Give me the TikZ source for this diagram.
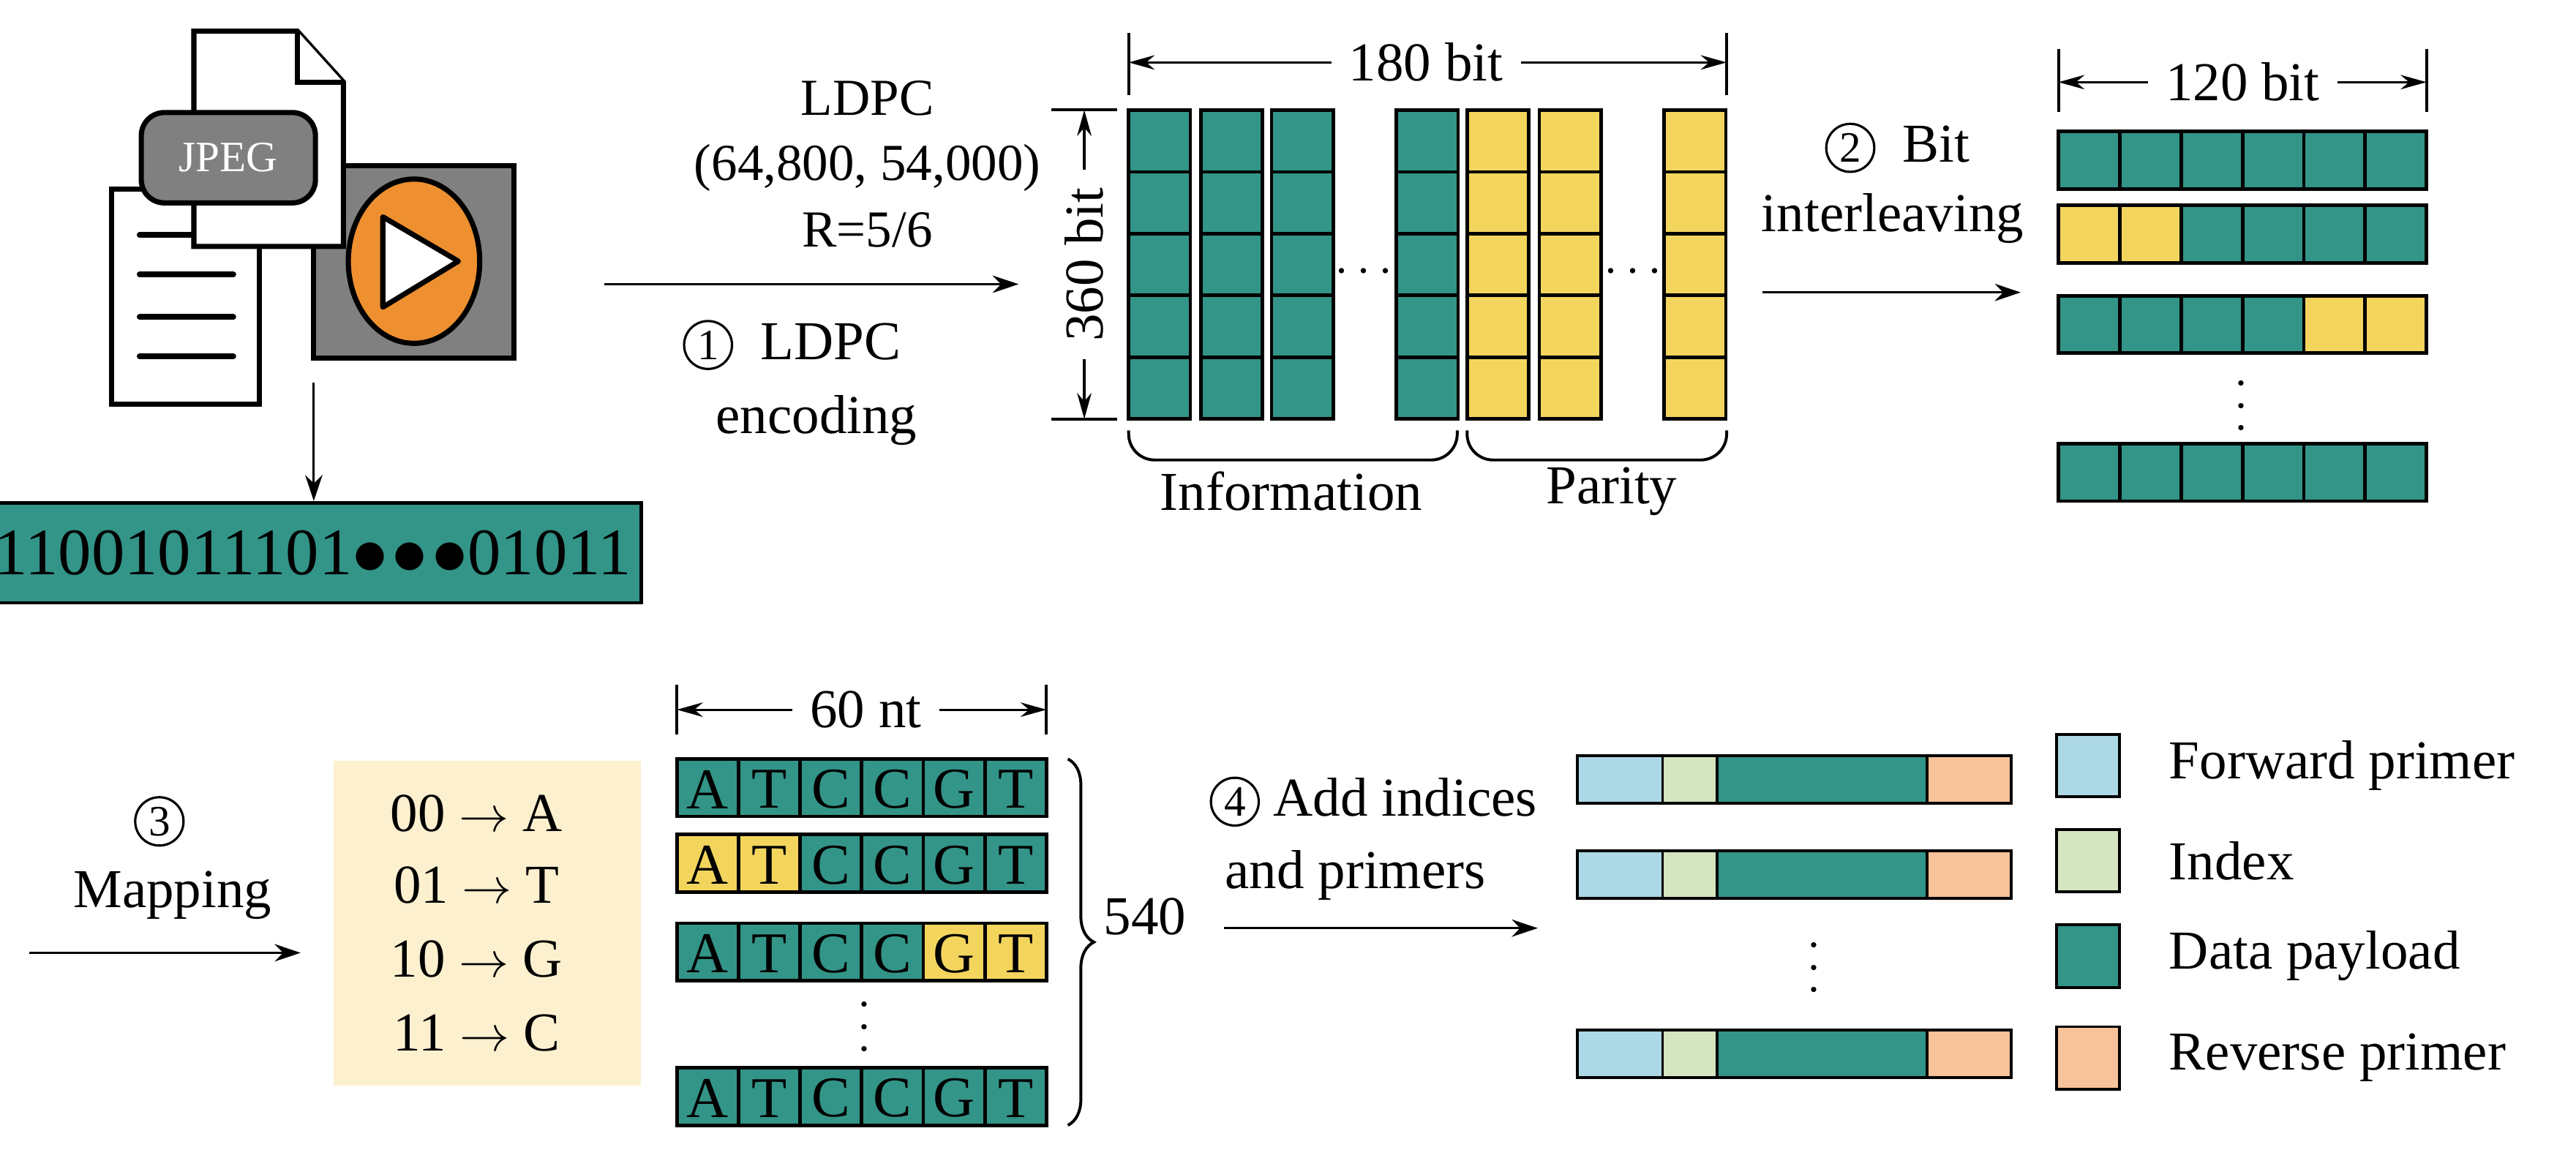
\documentclass[tikz,border=0pt]{standalone}
\usepackage{fontspec}
\setmainfont{Liberation Serif}
\usetikzlibrary{arrows.meta,decorations.pathreplacing}
\definecolor{teal1}{HTML}{339488}
\definecolor{yel}{HTML}{F3D55E}
\definecolor{lblue}{HTML}{ADD8E6}
\definecolor{lgreen}{HTML}{D5E5C0}
\definecolor{lorange}{HTML}{F8C29A}
\definecolor{mapbg}{HTML}{FDF0CF}
\definecolor{orng}{HTML}{EE9030}
\newcommand{\cnum}[1]{\tikz[baseline=(cc.base)]\node[draw,circle,line width=0.8pt,inner sep=1.5pt,font=\fontsize{15}{15}\selectfont](cc){#1};}
\begin{document}
\begin{tikzpicture}[x=0.02cm,y=-0.02cm,
  txt/.style={font=\fontsize{19}{22}\selectfont,inner sep=0pt},
  txs/.style={font=\fontsize{18}{21}\selectfont,inner sep=0pt},
  cell/.style={draw,line width=1.2pt},
  arr/.style={-{Stealth[length=9pt,width=6pt]},line width=0.8pt},
  dim/.style={-{Stealth[length=9pt,width=5pt]},line width=0.8pt},
  tick/.style={line width=1pt}]
\useasboundingbox (0,0) rectangle (1568,700);
% ---------- icon ----------
\draw[line width=1.8pt,fill=white] (68,115) rectangle (158,246);
\foreach \yy in {143,167,193,217}{\draw[line width=2pt,line cap=round] (85,\yy) -- (142,\yy);}
\draw[line width=1.8pt,fill=gray] (191,101) rectangle (313,218);
\draw[line width=1.8pt,fill=white] (118,19) -- (181,19) -- (209,50) -- (209,150) -- (118,150) -- cycle;
\draw[line width=1.8pt,fill=white] (181,19) -- (181,50) -- (209,50);
\draw[line width=1.8pt,fill=orng] (252,159) ellipse [x radius=40,y radius=50];
\draw[line width=1.8pt,fill=white,line join=round] (233,132) -- (233,187) -- (279,159) -- cycle;
\node[draw,line width=1.8pt,fill=gray,rounded corners=8pt,minimum width=106*0.02cm,minimum height=55*0.02cm,text=white,font=\fontsize{15}{17}\selectfont] (jpeg) at (139,96) {JPEG};
\coordinate (icon) at (191,233);
\node[draw,line width=1.2pt,fill=teal1,minimum width=353*0.02cm,minimum height=61*0.02cm,font=\fontsize{23}{25}\selectfont] (bin) at (190.5,336.5) {11001011101$\bullet\!\bullet\!\bullet$01011};
\draw[arr] (icon) -- (bin.north -| icon);
% ---------- step 1 ----------
\coordinate (a1s) at (368,173); \coordinate (a1e) at (620,173);
\draw[arr] (a1s) -- (a1e);
\node[txs] (t1a) at (528,60) {LDPC};
\node[txs] (t1b) at (528,102) {(64,800, 54,000)};
\node[txs] (t1c) at (528,140) {R=5/6};
\node[txt] (t1d) at (482,210) {\cnum{1}\ \ LDPC};
\node[txt] (t1e) at (497,256) {encoding};
% ---------- matrix ----------
\foreach \xx/\cc in {687/teal1,731/teal1,774/teal1,850/teal1,893/yel,937/yel,1013/yel}{
  \foreach \r in {0,...,4}{
    \draw[cell,fill=\cc] (\xx,67+\r*37.6) rectangle ++(37.5,37.6);
  }}
\node[txt] (d1) at (830,166) {$\cdots$};
\node[txt] (d2) at (994,166) {$\cdots$};
% 180 bit
\draw[tick] (687,20) -- (687,58);
\draw[tick] (1051,20) -- (1051,58);
\node[txt,fill=white,inner xsep=6pt] (b180) at (868,38) {180 bit};
\coordinate (b180l) at (687,38); \coordinate (b180r) at (1051,38);
\draw[dim] (b180.west) -- (b180l);
\draw[dim] (b180.east) -- (b180r);
% 360 bit
\draw[tick] (640,67) -- (680,67);
\draw[tick] (640,255) -- (680,255);
\node[txt,rotate=90,fill=white,inner xsep=6pt] (b360) at (660,161) {360 bit};
\coordinate (b360t) at (660,67); \coordinate (b360b) at (660,255);
\draw[dim] (b360.east) -- (b360t);
\draw[dim] (b360.west) -- (b360b);
% braces
\draw[line width=1pt,rounded corners=9pt] (687,262) -- (687,280) -- (887,280) -- (887,262);
\draw[line width=1pt,rounded corners=9pt] (893,262) -- (893,280) -- (1051,280) -- (1051,262);
\node[txt] (info) at (786,299) {Information};
\node[txt] (par) at (981,299) {Parity};
% ---------- step 2 ----------
\coordinate (a2s) at (1073,178); \coordinate (a2e) at (1230,178);
\draw[arr] (a2s) -- (a2e);
\node[txt] (t2a) at (1155,90) {\cnum{2}\ \ Bit};
\node[txt] (t2b) at (1152,133) {interleaving};
% right matrix
\foreach \yy/\cl in {80/{teal1,teal1,teal1,teal1,teal1,teal1},125/{yel,yel,teal1,teal1,teal1,teal1},180/{teal1,teal1,teal1,teal1,yel,yel},270/{teal1,teal1,teal1,teal1,teal1,teal1}}{
  \foreach \cc [count=\i from 0] in \cl{
    \draw[cell,fill=\cc] (1253+\i*37.33,\yy) rectangle ++(37.33,35);
  }}
\node[txt,rotate=90] (d3) at (1365,247) {$\cdots$};
\draw[tick] (1253,30) -- (1253,68);
\draw[tick] (1477,30) -- (1477,68);
\node[txt,fill=white,inner xsep=6pt] (b120) at (1365,50) {120 bit};
\coordinate (b120l) at (1253,50); \coordinate (b120r) at (1477,50);
\draw[dim] (b120.west) -- (b120l);
\draw[dim] (b120.east) -- (b120r);
% ---------- step 3 ----------
\coordinate (a3s) at (18,580); \coordinate (a3e) at (183,580);
\draw[arr] (a3s) -- (a3e);
\node[txt] (t3a) at (97,500) {\cnum{3}};
\node[txt] (t3b) at (105,545) {Mapping};
\node[fill=mapbg,minimum width=187*0.02cm,minimum height=198*0.02cm] (map) at (296.5,562) {};
\node[txt] (m1) at (290,495) {00 $\rightarrow$ A};
\node[txt] (m2) at (290,539) {01 $\rightarrow$ T};
\node[txt] (m3) at (290,584) {10 $\rightarrow$ G};
\node[txt] (m4) at (290,629) {11 $\rightarrow$ C};
% DNA rows
\foreach \yy/\cl in {462/{teal1,teal1,teal1,teal1,teal1,teal1},508/{yel,yel,teal1,teal1,teal1,teal1},562/{teal1,teal1,teal1,teal1,yel,yel},650/{teal1,teal1,teal1,teal1,teal1,teal1}}{
  \foreach \cc [count=\i from 0] in \cl{
    \draw[cell,fill=\cc] (412+\i*37.5,\yy) rectangle ++(37.5,35);
  }
  \foreach \L [count=\i from 0] in {A,T,C,C,G,T}{
    \node[font=\fontsize{20}{22}\selectfont,inner sep=0pt] at (412+\i*37.5+18.75,\yy+18.5) {\L};
  }}
\node[txt,rotate=90] (d4) at (527,625) {$\cdots$};
\draw[tick] (412,417) -- (412,447);
\draw[tick] (637,417) -- (637,447);
\node[txt,fill=white,inner xsep=6pt] (b60) at (527,432) {60 nt};
\coordinate (b60l) at (412,432); \coordinate (b60r) at (637,432);
\draw[dim] (b60.west) -- (b60l);
\draw[dim] (b60.east) -- (b60r);
\draw[line width=1pt,decorate,decoration={brace,amplitude=9pt}] (650,462) -- (650,685);
\node[txt] (n540) at (697,558) {540};
% ---------- step 4 ----------
\coordinate (a4s) at (745,565); \coordinate (a4e) at (936,565);
\draw[arr] (a4s) -- (a4e);
\node[txt] (t4a) at (836,488) {\cnum{4}\ Add indices};
\node[txt] (t4b) at (825,533) {and primers};
\foreach \yy in {460,518,627}{
  \draw[cell,line width=1pt,fill=lblue] (960,\yy) rectangle (1012,\yy+29);
  \draw[cell,line width=1pt,fill=lgreen] (1012,\yy) rectangle (1045,\yy+29);
  \draw[cell,line width=1pt,fill=teal1] (1045,\yy) rectangle (1173,\yy+29);
  \draw[cell,line width=1pt,fill=lorange] (1173,\yy) rectangle (1224,\yy+29);
}
\node[txt,rotate=90] (d5) at (1105,589) {$\cdots$};
% legend
\foreach \yy/\cc/\T in {447/lblue/Forward primer,505/lgreen/Index,563/teal1/Data payload,625/lorange/Reverse primer}{
  \draw[line width=1pt,fill=\cc] (1252,\yy) rectangle ++(38,38);
  \node[txt,anchor=west] at (1320,\yy+19) {\T};
}
\end{tikzpicture}
\end{document}
